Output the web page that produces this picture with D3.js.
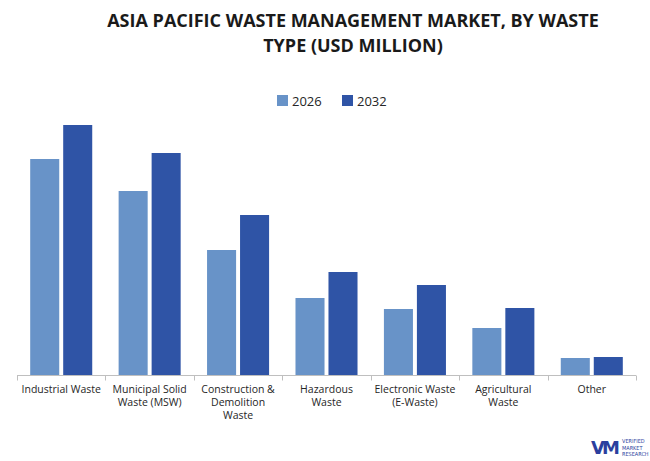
<!DOCTYPE html>
<html><head><meta charset="utf-8">
<script src="https://cdn.jsdelivr.net/npm/d3@7"></script>
<style>body{margin:0;background:#fff}svg{display:block}</style>
</head><body>
<svg id="c" width="650" height="461"></svg>
<script>
const categories = [
  ["Industrial Waste"],
  ["Municipal Solid", "Waste (MSW)"],
  ["Construction &", "Demolition", "Waste"],
  ["Hazardous", "Waste"],
  ["Electronic Waste", "(E-Waste)"],
  ["Agricultural", "Waste"],
  ["Other"]
];
const seriesNames = ["2026", "2032"];
const values2026 = [216, 184, 125, 77, 66, 47, 17];
const values2032 = [250, 222, 160, 103, 90, 67, 18];
const colors = ["#6893c8", "#2f54a6"];

(function () {
const svg = d3.select("#c");
const plotLeft = 17, plotRight = 636, base = 375, plotTop = 125;
const keys = categories.map((c, i) => i);
const x = d3.scaleBand().domain(keys).range([plotLeft, plotRight]).paddingInner(0).paddingOuter(0);
const xs = d3.scaleBand().domain(seriesNames).range([0, x.bandwidth()]).paddingInner(0.12).paddingOuter(0.4);
const y = d3.scaleLinear().domain([0, 250]).range([base, plotTop]);

const data = keys.map(i => ({i, vals: [values2026[i], values2032[i]]}));
const g = svg.append("g");
data.forEach(d => {
  d.vals.forEach((v, s) => {
    g.append("rect")
      .attr("x", x(d.i) + xs(seriesNames[s]))
      .attr("y", y(v))
      .attr("width", xs.bandwidth())
      .attr("height", base - y(v))
      .attr("fill", colors[s]);
  });
});

// axis
const ax = svg.append("g").attr("transform", `translate(0,${base + 0.5})`);
ax.append("line").attr("x1", plotLeft).attr("x2", plotRight).attr("stroke", "#bfbfbf").attr("stroke-width", 1);
const tickPos = keys.map(i => x(i)).concat([plotRight]);
tickPos.forEach(p => ax.append("line").attr("x1", Math.round(p) + 0.5).attr("x2", Math.round(p) + 0.5).attr("y1", 0).attr("y2", 5).attr("stroke", "#bfbfbf"));

categories.forEach((lines, i) => {
  const t = svg.append("text")
    .attr("text-anchor", "middle")
    .attr("font-family", "Open Sans, sans-serif")
    .attr("font-size", 10.5)
    .attr("fill", "#262626");
  lines.forEach((ln, k) => {
    t.append("tspan").attr("x", x(i) + x.bandwidth() / 2).attr("y", 393 + k * 13).text(ln);
  });
});

// title
const title = svg.append("text").attr("text-anchor", "middle")
  .attr("font-family", "Open Sans, sans-serif").attr("font-weight", "bold")
  .attr("font-size", 18).attr("fill", "#1a1a1a");
title.append("tspan").attr("x", 353).attr("y", 27).text("ASIA PACIFIC WASTE MANAGEMENT MARKET, BY WASTE");
title.append("tspan").attr("x", 353).attr("y", 52).text("TYPE (USD MILLION)");

// legend
const legX = [277, 342];
seriesNames.forEach((s, k) => {
  svg.append("rect").attr("x", legX[k]).attr("y", 95).attr("width", 11).attr("height", 11).attr("fill", colors[k]);
  svg.append("text").attr("x", legX[k] + 15).attr("y", 105.5)
    .attr("font-family", "Open Sans, sans-serif").attr("font-size", 13).attr("fill", "#262626").text(s);
});

// logo
const lg = svg.append("g").attr("transform", "translate(591,437)");
lg.append("text").attr("x", 0).attr("y", 17).attr("font-family", "DejaVu Sans, sans-serif").attr("font-weight", "bold")
  .attr("font-size", 18).attr("fill", "#2b3f9e").attr("letter-spacing", -3).text("VM");
["VERIFIED", "MARKET", "RESEARCH"].forEach((w, k) => {
  lg.append("text").attr("x", 31).attr("y", 6 + k * 6.5).attr("font-family", "DejaVu Sans Condensed, sans-serif")
    .attr("font-size", 5.5).attr("fill", "#2b3f9e").text(w);
});
})();
</script>
</body></html>
